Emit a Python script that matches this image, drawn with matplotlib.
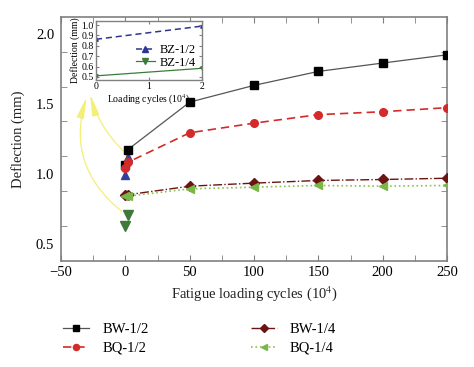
import numpy as np
import matplotlib
matplotlib.use('Agg')
import matplotlib.pyplot as plt
from matplotlib.ticker import MultipleLocator, FixedLocator

plt.rcParams['font.family'] = ['Liberation Serif', 'DejaVu Serif']
plt.rcParams['mathtext.fontset'] = 'stix'

# data (cycles in 10^4)
cycles = [0, 2, 50, 100, 150, 200, 250]
bw_half = [1.065, 1.174, 1.514, 1.634, 1.734, 1.794, 1.853]
bq_half = [1.038, 1.083, 1.294, 1.363, 1.424, 1.445, 1.474]
bw_quarter = [0.85, 0.85, 0.911, 0.933, 0.952, 0.959, 0.968]
bq_quarter = [0.84, 0.84, 0.892, 0.904, 0.916, 0.911, 0.916]

bz_cycles = [0, 2]
bz_half = [0.988, 1.119]
bz_quarter = [0.624, 0.701]

# inset data
inset_cycles = [0, 2]
inset_bz_half = [0.863, 0.99]
inset_bz_quarter = [0.51, 0.583]

spine_col = '#808080'

fig = plt.figure(figsize=(4.74, 3.67), dpi=100)
ax = fig.add_axes([0.129, 0.289, 0.814, 0.665])

# main series
l1, = ax.plot(cycles, bw_half, '-', color='#555555', lw=0.9, marker='s',
              mfc='black', mec='black', ms=5.5, label='BW-1/2', zorder=4)
l2, = ax.plot(cycles, bq_half, '--', color='#d42a2a', lw=1.2, marker='o',
              mfc='#d42a2a', mec='#d42a2a', ms=5.5, dashes=(5, 3), label='BQ-1/2', zorder=4)
l3, = ax.plot(cycles, bw_quarter, '-.', color='#6b1414', lw=1.0, marker='D',
              mfc='#6b1414', mec='#6b1414', ms=5, label='BW-1/4', zorder=3)
l4, = ax.plot(cycles, bq_quarter, ':', color='#8cc152', lw=1.2, marker='<',
              mfc='#7ab648', mec='#7ab648', ms=5.5, label='BQ-1/4', zorder=3)

# BZ points at the start (shown in inset)
ax.plot(bz_cycles, bz_half, linestyle='none', marker='^', color='#3040a0', ms=6, zorder=3)
ax.plot(bz_cycles, bz_quarter, linestyle='none', marker='v', color='#3f7a3a', ms=6.5, zorder=3)

# yellow arrows to inset
arrow_col = '#f3ef78'
ax.annotate('', xy=(-28, 1.59), xytext=(0, 1.15),
            arrowprops=dict(arrowstyle='-|>,head_length=1.3,head_width=0.22', color=arrow_col,
                            lw=0.9, connectionstyle='arc3,rad=-0.15'), zorder=2)
ax.annotate('', xy=(-29.5, 1.57), xytext=(-1.5, 0.72),
            arrowprops=dict(arrowstyle='-|>,head_length=1.3,head_width=0.22', color=arrow_col,
                            lw=0.9, connectionstyle='arc3,rad=-0.35'), zorder=2)

ax.set_xlim(-50, 250)
ax.set_ylim(0.375, 2.125)
ax.xaxis.set_major_locator(MultipleLocator(50))
ax.xaxis.set_minor_locator(MultipleLocator(25))
ax.yaxis.set_major_locator(FixedLocator([0.5, 1.0, 1.5, 2.0]))
ax.yaxis.set_minor_locator(FixedLocator([0.625, 0.875, 1.125, 1.375, 1.625, 1.875]))
ax.set_yticklabels(['0.5', '1.0', '1.5', '2.0'])
ax.tick_params(axis='x', which='both', direction='in', top=True, length=4,
               color=spine_col, labelsize=10.5)
ax.tick_params(axis='y', which='major', length=0, labelsize=10.5, pad=5)
ax.tick_params(axis='y', which='minor', direction='in', right=True, length=4, color=spine_col)
for s in ax.spines.values():
    s.set_color(spine_col)
    s.set_linewidth(1.2)

ax.set_xlabel('Fatigue loading cycles (10$^{4}$)', fontsize=10.5, color='#222222')
ax.set_ylabel('Deflection (mm)', fontsize=10.5, color='#222222', labelpad=8)

# legend below
fig.legend(handles=[l1, l2, l3, l4], ncol=2, loc='upper left',
           bbox_to_anchor=(0.105, 0.155), frameon=False, fontsize=10.5,
           handlelength=1.8, columnspacing=7.0, labelspacing=0.35, handletextpad=0.9,
           markerscale=0.8)

# inset
axin = fig.add_axes([0.2025, 0.782, 0.2236, 0.161])
axin.set_facecolor('white')
b1, = axin.plot(inset_cycles, inset_bz_half, '--', color='#2f3590', lw=1.1, marker='^',
                ms=2.5, dashes=(4, 2.5), label='BZ-1/2')
b2, = axin.plot(inset_cycles, inset_bz_quarter, '-', color='#3a7d3a', lw=0.9, marker='v',
                ms=2.5, label='BZ-1/4')
axin.set_xlim(0, 2)
axin.set_ylim(0.47, 1.04)
axin.xaxis.set_major_locator(MultipleLocator(1))
axin.yaxis.set_major_locator(MultipleLocator(0.1))
axin.tick_params(which='both', direction='in', top=True, right=True, length=2.5,
                 color=spine_col, labelsize=7, pad=1.5)
axin.set_xlabel('Loading cycles (10$^{4}$)', fontsize=7, labelpad=1)
axin.set_ylabel('Deflection (mm)', fontsize=7, labelpad=1)
for s in axin.spines.values():
    s.set_color(spine_col)
    s.set_linewidth(1.0)
leg = axin.legend(handles=[b1, b2], loc='center right', bbox_to_anchor=(1.0, 0.4),
                  borderaxespad=0.1, frameon=False, fontsize=9, handlelength=1.5,
                  labelspacing=0.05, handletextpad=0.4, markerscale=1.8)

fig.savefig('out.png', dpi=100)
